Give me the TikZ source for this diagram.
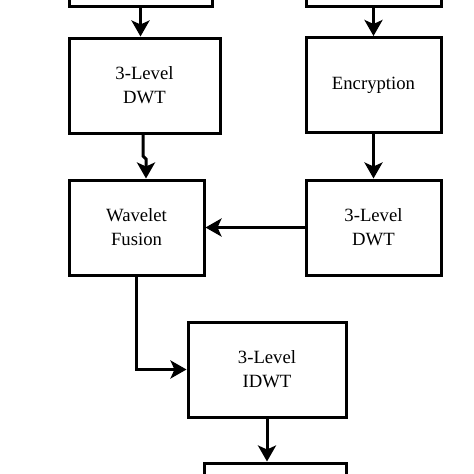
\documentclass[tikz,border=0pt]{standalone}
\usepackage{fontspec}
\setmainfont{Liberation Serif}
\usetikzlibrary{arrows.meta}
\begin{document}
\begin{tikzpicture}[x=1pt,y=-1pt,
  blk/.style={draw,line width=3pt,minimum width=#1,minimum height=95pt,inner sep=0pt,align=center,
    font=\fontsize{18.7}{24}\selectfont},
  arr/.style={line width=3pt,-{Stealth[length=16pt,width=18pt,inset=4pt]}}]
\fill[white] (0,0) rectangle (474,474);
\useasboundingbox (0,0) rectangle (474,474);
\clip (0,0) rectangle (474,474);
\node[blk=143pt] (topL) at (140.5,-41.5) {};
\node[blk=135pt] (topR) at (373.5,-41.5) {};
\node[blk=151pt] (dwt1) at (144.5,85.5) {3-Level\\DWT};
\node[blk=135pt] (enc) at (373.5,85) {Encryption};
\node[blk=135pt] (fus) at (136.5,227.5) {Wavelet\\Fusion};
\node[blk=135pt] (dwt2) at (373.5,227.5) {3-Level\\DWT};
\node[blk=158pt] (idwt) at (267,369.5) {3-Level\\IDWT};
\node[blk=142pt] (bot) at (275,510.5) {};
\coordinate (j1) at (143,156);
\coordinate (j2) at (146,159);
\draw[arr] (topL.south) -- (topL.south |- dwt1.north);
\draw[arr] (topR.south) -- (enc.north);
\draw[arr] (dwt1.south -| j1) -- (j1) -- (j2) -- (fus.north -| j2);
\draw[arr] (enc.south) -- (dwt2.north);
\draw[arr] (dwt2.west) -- (fus.east);
\draw[arr] (fus.south) |- (idwt.west);
\draw[arr] (idwt.south) -- (idwt.south |- bot.north);
\end{tikzpicture}
\end{document}
